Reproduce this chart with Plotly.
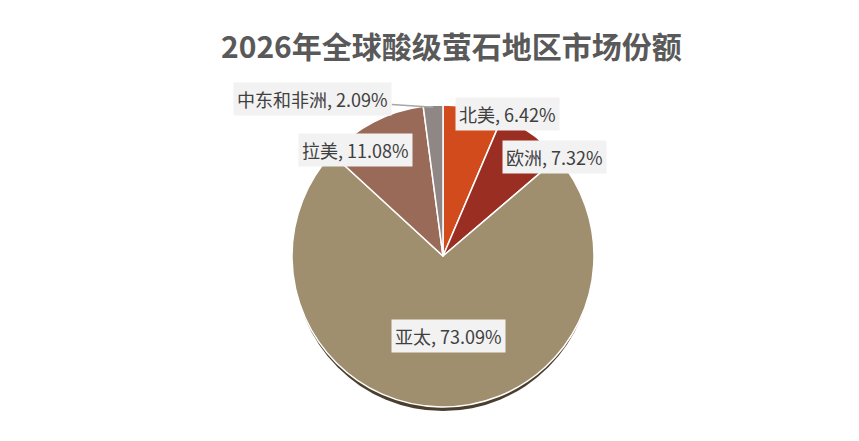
import math
import plotly.graph_objects as go

# ---- data ----
regions = ["北美", "欧洲", "亚太", "拉美", "中东和非洲"]
shares = [6.42, 7.32, 73.09, 11.08, 2.09]
title_text = "2026年全球酸级萤石地区市场份额"

# ---- style ----
colors = ["#D24B1D", "#9B2E22", "#A08F6E", "#9A6A58", "#8F8686"]
W, H = 859, 441
CX, CY, R = 443, 256, 151
# label placement: angle nudge (deg) relative to slice mid-angle, radial factor
label_nudge = [12.8, 12.2, -5.0, -11.9, -35.9]
label_rad = [1.03, 0.99, 0.53, 0.91, 1.35]
leader = [False, False, False, False, True]
LABEL_FONT = dict(family="Noto Sans CJK SC", size=18, color="#404040")

def px_to_paper(px, py):
    return px / W, 1 - py / H

fig = go.Figure()

# shadow pie
sx0, sy1 = px_to_paper(CX - R + 2, CY - R + 6)
sx1, sy0 = px_to_paper(CX + R - 2, CY + R + 6)
fig.add_trace(go.Pie(values=[1], labels=["shadow"], marker=dict(colors=["#4A3F2E"]),
                     textinfo="none", hoverinfo="skip", sort=False,
                     domain=dict(x=[sx0, sx1], y=[sy0, sy1]), showlegend=False))

x0, y1 = px_to_paper(CX - R, CY - R)
x1, y0 = px_to_paper(CX + R, CY + R)
fig.add_trace(go.Pie(
    labels=regions, values=shares, sort=False, direction="clockwise", rotation=0,
    marker=dict(colors=colors, line=dict(color="white", width=1.5)),
    textinfo="none", hoverinfo="label+percent",
    domain=dict(x=[x0, x1], y=[y0, y1]), showlegend=False,
))

total = sum(shares)
cum = 0
annotations = []
for i, (name, v) in enumerate(zip(regions, shares)):
    mid = (cum + v / 2) / total * 360
    cum += v
    ang = math.radians(mid + label_nudge[i])
    lx = CX + label_rad[i] * R * math.sin(ang)
    ly = CY - label_rad[i] * R * math.cos(ang)
    text = f"{name}, {v:.2f}%"
    if leader[i]:
        ma = math.radians(mid)
        ex = CX + R * math.sin(ma)
        ey = CY - R * math.cos(ma) + 2
        axp, ayp = px_to_paper(ex, ey)
        annotations.append(dict(
            x=axp, y=ayp, xref="paper", yref="paper", text=text,
            showarrow=True, arrowhead=0, arrowcolor="#A6A6A6", arrowwidth=1.5,
            ax=lx - ex, ay=ly - ey,
            font=LABEL_FONT, bgcolor="#F2F2F2", borderpad=3))
    else:
        xp, yp = px_to_paper(lx, ly)
        annotations.append(dict(
            x=xp, y=yp, xref="paper", yref="paper", text=text, showarrow=False,
            xanchor="center", yanchor="middle",
            font=LABEL_FONT, bgcolor="#F2F2F2", borderpad=3))

tx, ty = px_to_paper(451, 45)
annotations.append(dict(x=tx, y=ty, xref="paper", yref="paper", text=f"<b>{title_text}</b>",
                        showarrow=False, xanchor="center", yanchor="middle",
                        font=dict(family="Noto Sans CJK SC", size=30, color="#595959")))

fig.update_layout(
    width=W, height=H, margin=dict(l=0, r=0, t=0, b=0),
    paper_bgcolor="white", plot_bgcolor="white",
    annotations=annotations,
)
fig.write_html("out.html")
